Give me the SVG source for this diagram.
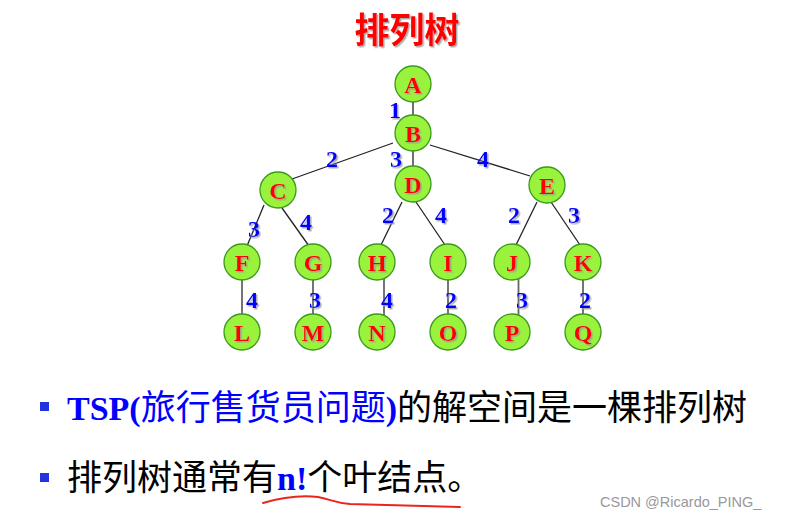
<svg xmlns="http://www.w3.org/2000/svg" width="806" height="518" viewBox="0 0 806 518">
<defs>
<filter id="sh" x="-20%" y="-20%" width="140%" height="140%">
<feDropShadow dx="1.5" dy="1.5" stdDeviation="0.4" flood-color="#999" flood-opacity="0.8"/>
</filter>
</defs>
<style>
.node circle{fill:#99F23C;stroke:#3A9A1A;stroke-width:1.3}
.node text{font-family:"Liberation Serif",serif;font-weight:bold;font-size:24px;fill:#FF0000;text-anchor:middle;filter:url(#sh)}
.edge{stroke:#222;stroke-width:1.3;fill:none}
.vedge{stroke:#666;stroke-width:1.8;fill:none}
.lbl{font-family:"Liberation Serif",serif;font-weight:bold;font-size:24px;fill:#0000FF;text-anchor:middle;filter:url(#sh)}
.cjk{font-family:"Noto Sans CJK SC",sans-serif;font-size:35px}
.lat{font-family:"Liberation Serif",serif;font-weight:bold;font-size:34px;fill:#0000FF}
</style>
<rect width="806" height="518" fill="#fff"/>
<text x="407" y="43" font-family="Noto Sans CJK SC,sans-serif" font-weight="bold" font-size="35" fill="#FF0000" text-anchor="middle" filter="url(#sh)">排列树</text>
<g id="connectors">
<line class="edge" x1="413" y1="100" x2="413" y2="117"/>
<line class="edge" x1="393" y1="143" x2="292" y2="179"/>
<line class="edge" x1="413" y1="150" x2="413" y2="167"/>
<line class="edge" x1="430" y1="145" x2="530" y2="176"/>
<line class="edge" x1="264" y1="205" x2="247" y2="246"/>
<line class="edge" x1="282" y1="208" x2="309" y2="246"/>
<line class="edge" x1="402" y1="202" x2="381" y2="245"/>
<line class="edge" x1="416" y1="202" x2="445" y2="245"/>
<line class="edge" x1="537" y1="202" x2="516" y2="245"/>
<line class="edge" x1="551" y1="202" x2="580" y2="245"/>
<line class="vedge" x1="242" y1="279" x2="242" y2="316"/>
<line class="vedge" x1="313" y1="279" x2="313" y2="316"/>
<line class="vedge" x1="384" y1="279" x2="384" y2="316"/>
<line class="vedge" x1="448" y1="279" x2="448" y2="316"/>
<line class="vedge" x1="518.5" y1="279" x2="518.5" y2="316"/>
<line class="vedge" x1="583" y1="279" x2="583" y2="316"/>
<text class="lbl" x="395" y="118">1</text>
<text class="lbl" x="332" y="167">2</text>
<text class="lbl" x="396" y="167">3</text>
<text class="lbl" x="483" y="167">4</text>
<text class="lbl" x="254" y="237">3</text>
<text class="lbl" x="306" y="230">4</text>
<text class="lbl" x="388" y="223">2</text>
<text class="lbl" x="441" y="223">4</text>
<text class="lbl" x="514" y="223">2</text>
<text class="lbl" x="574" y="223">3</text>
<text class="lbl" x="252" y="308">4</text>
<text class="lbl" x="315" y="308">3</text>
<text class="lbl" x="387" y="308">4</text>
<text class="lbl" x="451" y="308">2</text>
<text class="lbl" x="522" y="308">3</text>
<text class="lbl" x="585" y="308">2</text>
</g>
<g id="A" class="node"><circle cx="413" cy="84" r="18"/><text x="413" y="93">A</text></g>
<g id="B" class="node"><circle cx="413" cy="133" r="18"/><text x="413" y="142">B</text></g>
<g id="C" class="node"><circle cx="278" cy="190" r="18"/><text x="278" y="199">C</text></g>
<g id="D" class="node"><circle cx="413" cy="184" r="18"/><text x="413" y="193">D</text></g>
<g id="E" class="node"><circle cx="547" cy="185" r="18"/><text x="547" y="194">E</text></g>
<g id="F" class="node"><circle cx="242" cy="262" r="18"/><text x="242" y="271">F</text></g>
<g id="G" class="node"><circle cx="313" cy="262" r="18"/><text x="313" y="271">G</text></g>
<g id="H" class="node"><circle cx="377" cy="262" r="18"/><text x="377" y="271">H</text></g>
<g id="I" class="node"><circle cx="448" cy="262" r="18"/><text x="448" y="271">I</text></g>
<g id="J" class="node"><circle cx="512" cy="262" r="18"/><text x="512" y="271">J</text></g>
<g id="K" class="node"><circle cx="583" cy="262" r="18"/><text x="583" y="271">K</text></g>
<g id="L" class="node"><circle cx="242" cy="332" r="18"/><text x="242" y="341">L</text></g>
<g id="M" class="node"><circle cx="313" cy="332" r="18"/><text x="313" y="341">M</text></g>
<g id="N" class="node"><circle cx="377" cy="332" r="18"/><text x="377" y="341">N</text></g>
<g id="O" class="node"><circle cx="448" cy="332" r="18"/><text x="448" y="341">O</text></g>
<g id="P" class="node"><circle cx="512" cy="332" r="18"/><text x="512" y="341">P</text></g>
<g id="Q" class="node"><circle cx="583" cy="332" r="18"/><text x="583" y="341">Q</text></g>
<rect x="40" y="402" width="9" height="9" fill="#2233DD"/>
<text x="67" y="420" class="cjk"><tspan class="lat">TSP(</tspan><tspan fill="#0000FF">旅行售货员问题</tspan><tspan class="lat">)</tspan><tspan fill="#000">的解空间是一棵排列树</tspan></text>
<rect x="40" y="473" width="9" height="9" fill="#2233DD"/>
<text x="67" y="490" class="cjk" fill="#000">排列树通常有<tspan class="lat">n!</tspan>个叶结点。</text>
<path d="M263 503 C280 498 300 495 318 497 C330 499 335 503 350 504 C390 505 430 506 460 507" fill="none" stroke="#E8261E" stroke-width="2" stroke-linecap="round"/>
<text x="600" y="507" font-family="Liberation Sans,sans-serif" font-size="14.5" fill="#999">CSDN @Ricardo_PING_</text>
</svg>
